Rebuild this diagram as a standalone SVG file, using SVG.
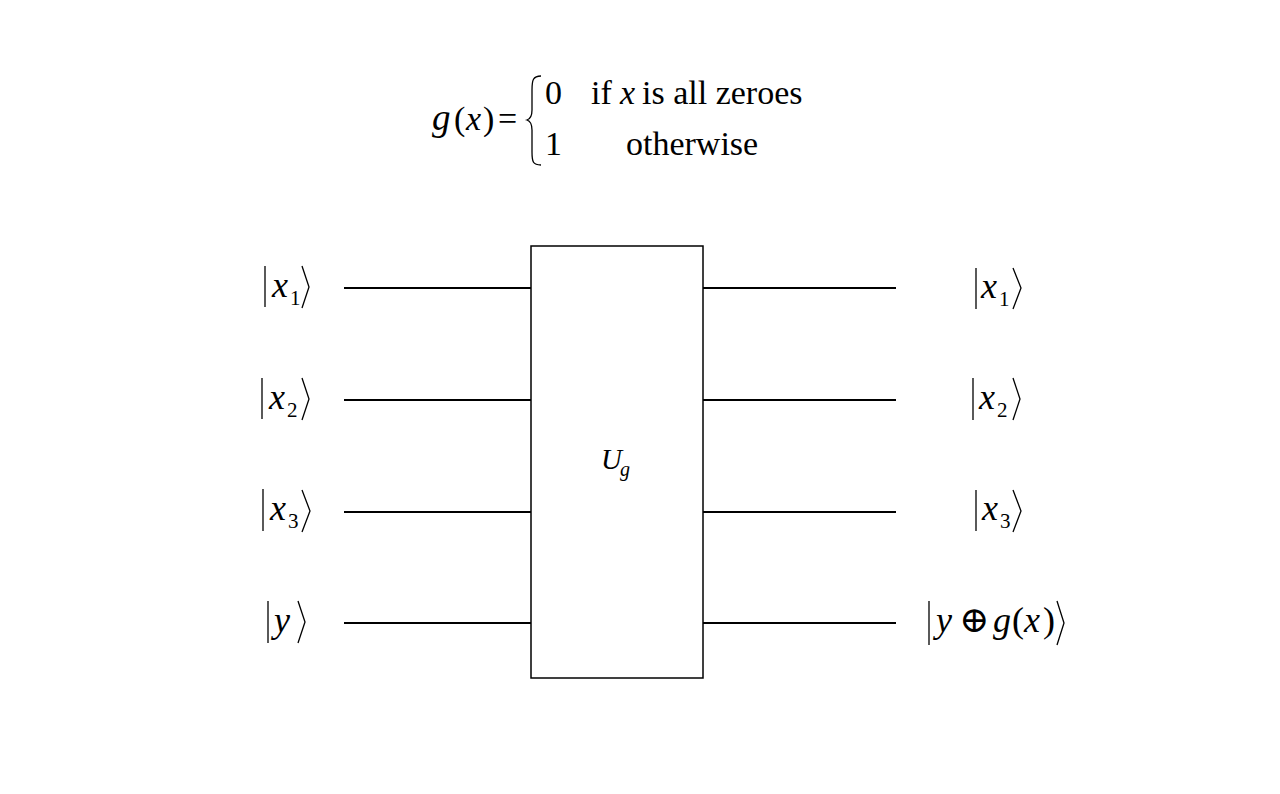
<svg xmlns="http://www.w3.org/2000/svg" width="1280" height="794" viewBox="0 0 1280 794">
<style>
text{font-family:'Liberation Serif','DejaVu Serif',serif;fill:#000}
.it{font-style:italic}
.k{font-size:36px}
.s{font-size:21px}
.f{font-size:34px}
.thin{stroke:#000;stroke-width:1.3;fill:none}
.wire{stroke:#000;stroke-width:2;fill:none}
</style>
<rect width="1280" height="794" fill="#fff"/>
<g id="formula">
<text class="it" x="432" y="130" font-size="37">g</text>
<text class="f" x="454" y="130">(</text>
<text class="f it" x="466" y="130">x</text>
<text class="f" x="483" y="130">)</text>
<text class="f" x="498" y="130">=</text>
<path class="thin" d="M541,76 C533,76 532,80 532,90 L532,110 C532,117 530,119 527,120 C530,121 532,123 532,130 L532,152 C532,162 533,165 541,165"/>
<text class="f" x="545" y="104">0</text>
<text class="f" x="591" y="104">if</text>
<text class="f it" x="620" y="104">x</text>
<text class="f" x="642" y="104">is all zeroes</text>
<text class="f" x="545" y="155">1</text>
<text class="f" x="626" y="155">otherwise</text>
</g>
<g id="connectors">
<line class="wire" x1="344" y1="288" x2="531" y2="288"/>
<line class="wire" x1="344" y1="400" x2="531" y2="400"/>
<line class="wire" x1="344" y1="512" x2="531" y2="512"/>
<line class="wire" x1="344" y1="623" x2="531" y2="623"/>
<line class="wire" x1="703" y1="288" x2="896" y2="288"/>
<line class="wire" x1="703" y1="400" x2="896" y2="400"/>
<line class="wire" x1="703" y1="512" x2="896" y2="512"/>
<line class="wire" x1="703" y1="623" x2="896" y2="623"/>
</g>
<g id="gate-Ug">
<rect x="531" y="246" width="172" height="432" fill="#fff" stroke="#000" stroke-width="1.5"/>
<text class="it" x="601" y="469" font-size="29">U</text>
<text class="it" x="620" y="476" font-size="20">g</text>
</g>
<g id="in-x1">
<line class="thin" x1="265" y1="266" x2="265" y2="307"/>
<text class="k it" x="272" y="297">x</text>
<text class="s" x="290" y="305">1</text>
<polyline class="thin" points="302,266 309,287 302,308"/>
</g>
<g id="in-x2">
<line class="thin" x1="262" y1="378" x2="262" y2="419"/>
<text class="k it" x="269" y="409">x</text>
<text class="s" x="287" y="417">2</text>
<polyline class="thin" points="302,378 309,399 302,420"/>
</g>
<g id="in-x3">
<line class="thin" x1="263" y1="489" x2="263" y2="531"/>
<text class="k it" x="270" y="520">x</text>
<text class="s" x="288" y="528">3</text>
<polyline class="thin" points="302,490 310,511 302,532"/>
</g>
<g id="in-y">
<line class="thin" x1="268" y1="601" x2="268" y2="643"/>
<text class="k it" x="274" y="632">y</text>
<polyline class="thin" points="298,601 305,622 298,643"/>
</g>
<g id="out-x1">
<line class="thin" x1="976" y1="268" x2="976" y2="309"/>
<text class="k it" x="981" y="298">x</text>
<text class="s" x="999" y="306">1</text>
<polyline class="thin" points="1013,268 1021,288 1013,309"/>
</g>
<g id="out-x2">
<line class="thin" x1="973" y1="378" x2="973" y2="420"/>
<text class="k it" x="979" y="409">x</text>
<text class="s" x="997" y="417">2</text>
<polyline class="thin" points="1013,378 1020,399 1013,420"/>
</g>
<g id="out-x3">
<line class="thin" x1="976" y1="490" x2="976" y2="531"/>
<text class="k it" x="982" y="520">x</text>
<text class="s" x="1000" y="528">3</text>
<polyline class="thin" points="1013,490 1021,511 1013,532"/>
</g>
<g id="out-y-xor-g">
<line class="thin" x1="929" y1="601" x2="929" y2="645"/>
<text class="k it" x="936" y="632">y</text>
<text class="k" x="959" y="632">⊕</text>
<text class="k it" x="993" y="632">g</text>
<text class="k" x="1012" y="632">(</text>
<text class="k it" x="1024" y="632">x</text>
<text class="k" x="1043" y="632">)</text>
<polyline class="thin" points="1057,601 1064,623 1057,645"/>
</g>
</svg>
